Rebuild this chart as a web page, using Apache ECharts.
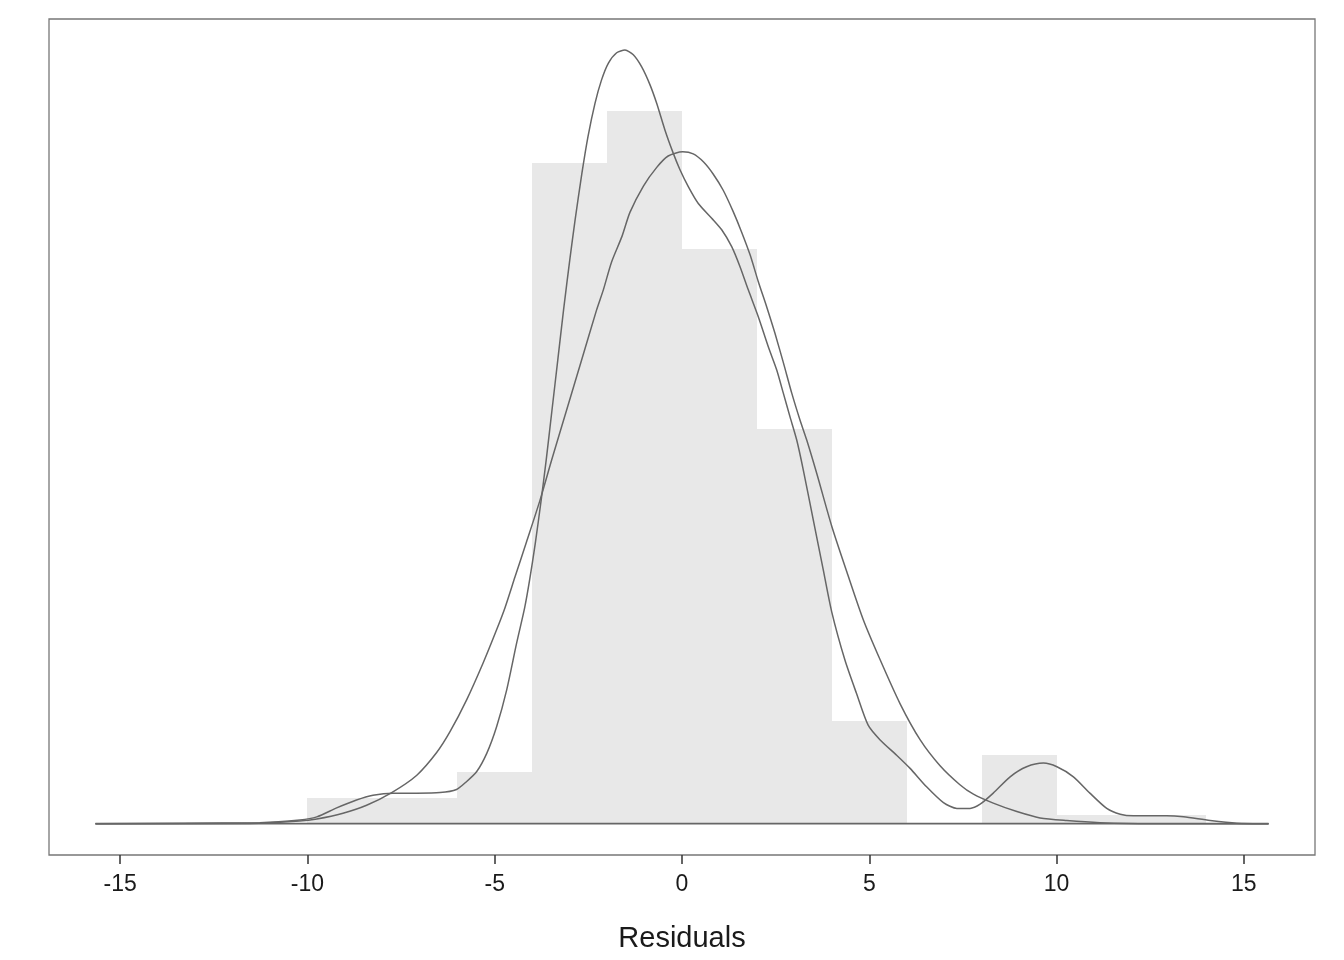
<!DOCTYPE html>
<html>
<head>
<meta charset="utf-8">
<script src="https://cdn.jsdelivr.net/npm/echarts@6/dist/echarts.min.js"></script>
<style>
html,body{margin:0;padding:0;background:#fff;}
#chart{width:1344px;height:960px;}
</style>
</head>
<body>
<div id="chart"></div>
<script>
// Histogram bins (bin width 2) and density heights
var binStarts = [-10, -8, -6, -4, -2, 0, 2, 4, 6, 8, 10, 12];
var binEnds   = [-8, -6, -4, -2, 0, 2, 4, 6, 8, 10, 12, 14];
var binDensity = [0.00489, 0.00489, 0.00977, 0.1254, 0.1352, 0.1091, 0.0749, 0.01954, 0, 0.01303, 0.00163, 0.00163];

// Kernel density estimate
var kdeX = [-15.66, -11.27, -10.20, -9.75, -9.22, -8.69, -8.25, -7.72, -7.08, -6.46, -6.02, -5.75, -5.48, -5.21, -4.95, -4.68, -4.414, -4.200, -4.067, -3.917, -3.760, -3.626, -3.471, -3.316, -3.162, -2.996, -2.854, -2.673, -2.510, -2.323, -2.150, -1.968, -1.744, -1.522, -1.30, -1.076, -0.854, -0.676, -0.454, -0.232, -0.06, 0.168, 0.435, 0.793, 1.06, 1.327, 1.549, 1.770, 2.037, 2.304, 2.529, 2.705, 2.884, 3.063, 3.239, 3.506, 3.773, 3.997, 4.352, 4.66, 4.97, 5.29, 5.73, 6.09, 6.53, 6.98, 7.34, 7.69, 7.96, 8.31, 8.76, 9.20, 9.65, 10.01, 10.45, 10.89, 11.34, 11.70, 12.05, 12.94, 13.39, 14.10, 14.81, 15.66];
var kdeY = [0, 0.0002, 0.0007, 0.0013, 0.0030, 0.0045, 0.0054, 0.0058, 0.0058, 0.0059, 0.0065, 0.0080, 0.0099, 0.0134, 0.0184, 0.0254, 0.0343, 0.0410, 0.0463, 0.0532, 0.0614, 0.0690, 0.0785, 0.0880, 0.0975, 0.1070, 0.1146, 0.1234, 0.1304, 0.1367, 0.1411, 0.1443, 0.1463, 0.1468, 0.1459, 0.1436, 0.1402, 0.1367, 0.1316, 0.1272, 0.1242, 0.1209, 0.1177, 0.1149, 0.1127, 0.1095, 0.1057, 0.1013, 0.0962, 0.0905, 0.0861, 0.0817, 0.0772, 0.0728, 0.0671, 0.0576, 0.0481, 0.0402, 0.0310, 0.0247, 0.0187, 0.0159, 0.0130, 0.0105, 0.0070, 0.0040, 0.0029, 0.0029, 0.0037, 0.0058, 0.0089, 0.0108, 0.0115, 0.0108, 0.0089, 0.0058, 0.0029, 0.0018, 0.0015, 0.0015, 0.0013, 0.0006, 0.0001, 0];

// Normal density curve
var normX = [-15.66, -11.54, -10.20, -9.75, -9.05, -8.42, -7.75, -7.08, -6.55, -6.19, -5.75, -5.31, -4.95, -4.73, -4.46, -4.15, -3.79, -3.48, -3.08, -2.68, -2.28, -2.10, -1.88, -1.60, -1.39, -1.03, -0.68, -0.37, 0.02, 0.30, 0.57, 0.84, 1.10, 1.37, 1.59, 1.82, 2.04, 2.26, 2.48, 2.71, 2.93, 3.15, 3.33, 3.60, 4.00, 4.40, 4.84, 5.29, 5.82, 6.36, 6.89, 7.42, 7.78, 8.31, 8.94, 9.56, 10.27, 11.16, 12.50, 15.66];
var normY = [0, 0.00004, 0.0005, 0.0009, 0.0020, 0.0035, 0.0059, 0.0092, 0.0135, 0.0175, 0.0235, 0.0305, 0.0368, 0.0409, 0.0468, 0.0535, 0.0614, 0.0690, 0.0785, 0.0880, 0.0975, 0.1013, 0.1066, 0.1115, 0.1160, 0.1210, 0.1245, 0.1267, 0.1275, 0.1271, 0.1256, 0.1232, 0.1202, 0.1161, 0.1123, 0.1079, 0.1028, 0.0981, 0.0931, 0.0874, 0.0817, 0.0766, 0.0728, 0.0664, 0.0564, 0.0478, 0.0387, 0.0311, 0.0228, 0.0159, 0.0110, 0.0074, 0.0056, 0.0039, 0.0023, 0.0011, 0.0006, 0.0002, 0, 0];

// Axis tick labels
var xTicks = [-15, -10, -5, 0, 5, 10, 15];
var xTitle = 'Residuals';

function zip(a, b) { return a.map(function (v, i) { return [v, b[i]]; }); }

var histData = binStarts.map(function (s, i) { return [s, binEnds[i], binDensity[i]]; });

var chart = echarts.init(document.getElementById('chart'), null, { renderer: 'canvas' });
var LINE = '#666666';
var FONT = 'Liberation Sans, Arial, sans-serif';
chart.setOption({
  animation: false,
  backgroundColor: '#ffffff',
  grid: {
    left: 49, right: 29, top: 19, bottom: 105,
    show: true, borderColor: '#777777', borderWidth: 1.3,
    backgroundColor: 'transparent',
    containLabel: false, outerBoundsMode: 'none'
  },
  xAxis: {
    type: 'value',
    min: -16.9, max: 16.9,
    axisLine: { show: false, onZero: false },
    splitLine: { show: false },
    axisTick: { show: true, length: 9, customValues: xTicks, lineStyle: { color: '#333333', width: 1.5 } },
    axisLabel: {
      show: true, customValues: xTicks, margin: 18,
      fontFamily: FONT, fontSize: 23, color: '#1a1a1a'
    },
    name: xTitle,
    nameLocation: 'middle',
    nameGap: 69,
    nameTextStyle: { fontFamily: FONT, fontSize: 29, color: '#1a1a1a' }
  },
  yAxis: {
    type: 'value',
    min: -0.00594, max: 0.1527,
    show: false,
    splitLine: { show: false }
  },
  series: [
    {
      type: 'custom',
      data: histData,
      encode: { x: [0, 1], y: 2 },
      renderItem: function (params, api) {
        var x0 = api.value(0), x1 = api.value(1), h = api.value(2);
        if (!h) return null;
        var p0 = api.coord([x0, h]);
        var p1 = api.coord([x1, 0]);
        var l = Math.round(p0[0]), r = Math.round(p1[0]);
        var t = Math.round(p0[1]), b = Math.round(p1[1]);
        return {
          type: 'rect',
          shape: { x: l, y: t, width: r - l, height: b - t },
          style: { fill: '#e8e8e8' }
        };
      },
      z: 1
    },
    {
      type: 'line',
      data: zip(kdeX, kdeY),
      showSymbol: false, symbol: 'none',
      smooth: 0.25,
      lineStyle: { color: LINE, width: 1.5 },
      z: 3
    },
    {
      type: 'line',
      data: zip(normX, normY),
      showSymbol: false, symbol: 'none',
      smooth: 0.25,
      lineStyle: { color: LINE, width: 1.5 },
      z: 3
    },
    {
      type: 'line',
      data: [[kdeX[0], 0], [kdeX[kdeX.length - 1], 0]],
      showSymbol: false, symbol: 'none',
      lineStyle: { color: LINE, width: 1.8 },
      z: 4
    }
  ]
});
</script>
</body>
</html>
